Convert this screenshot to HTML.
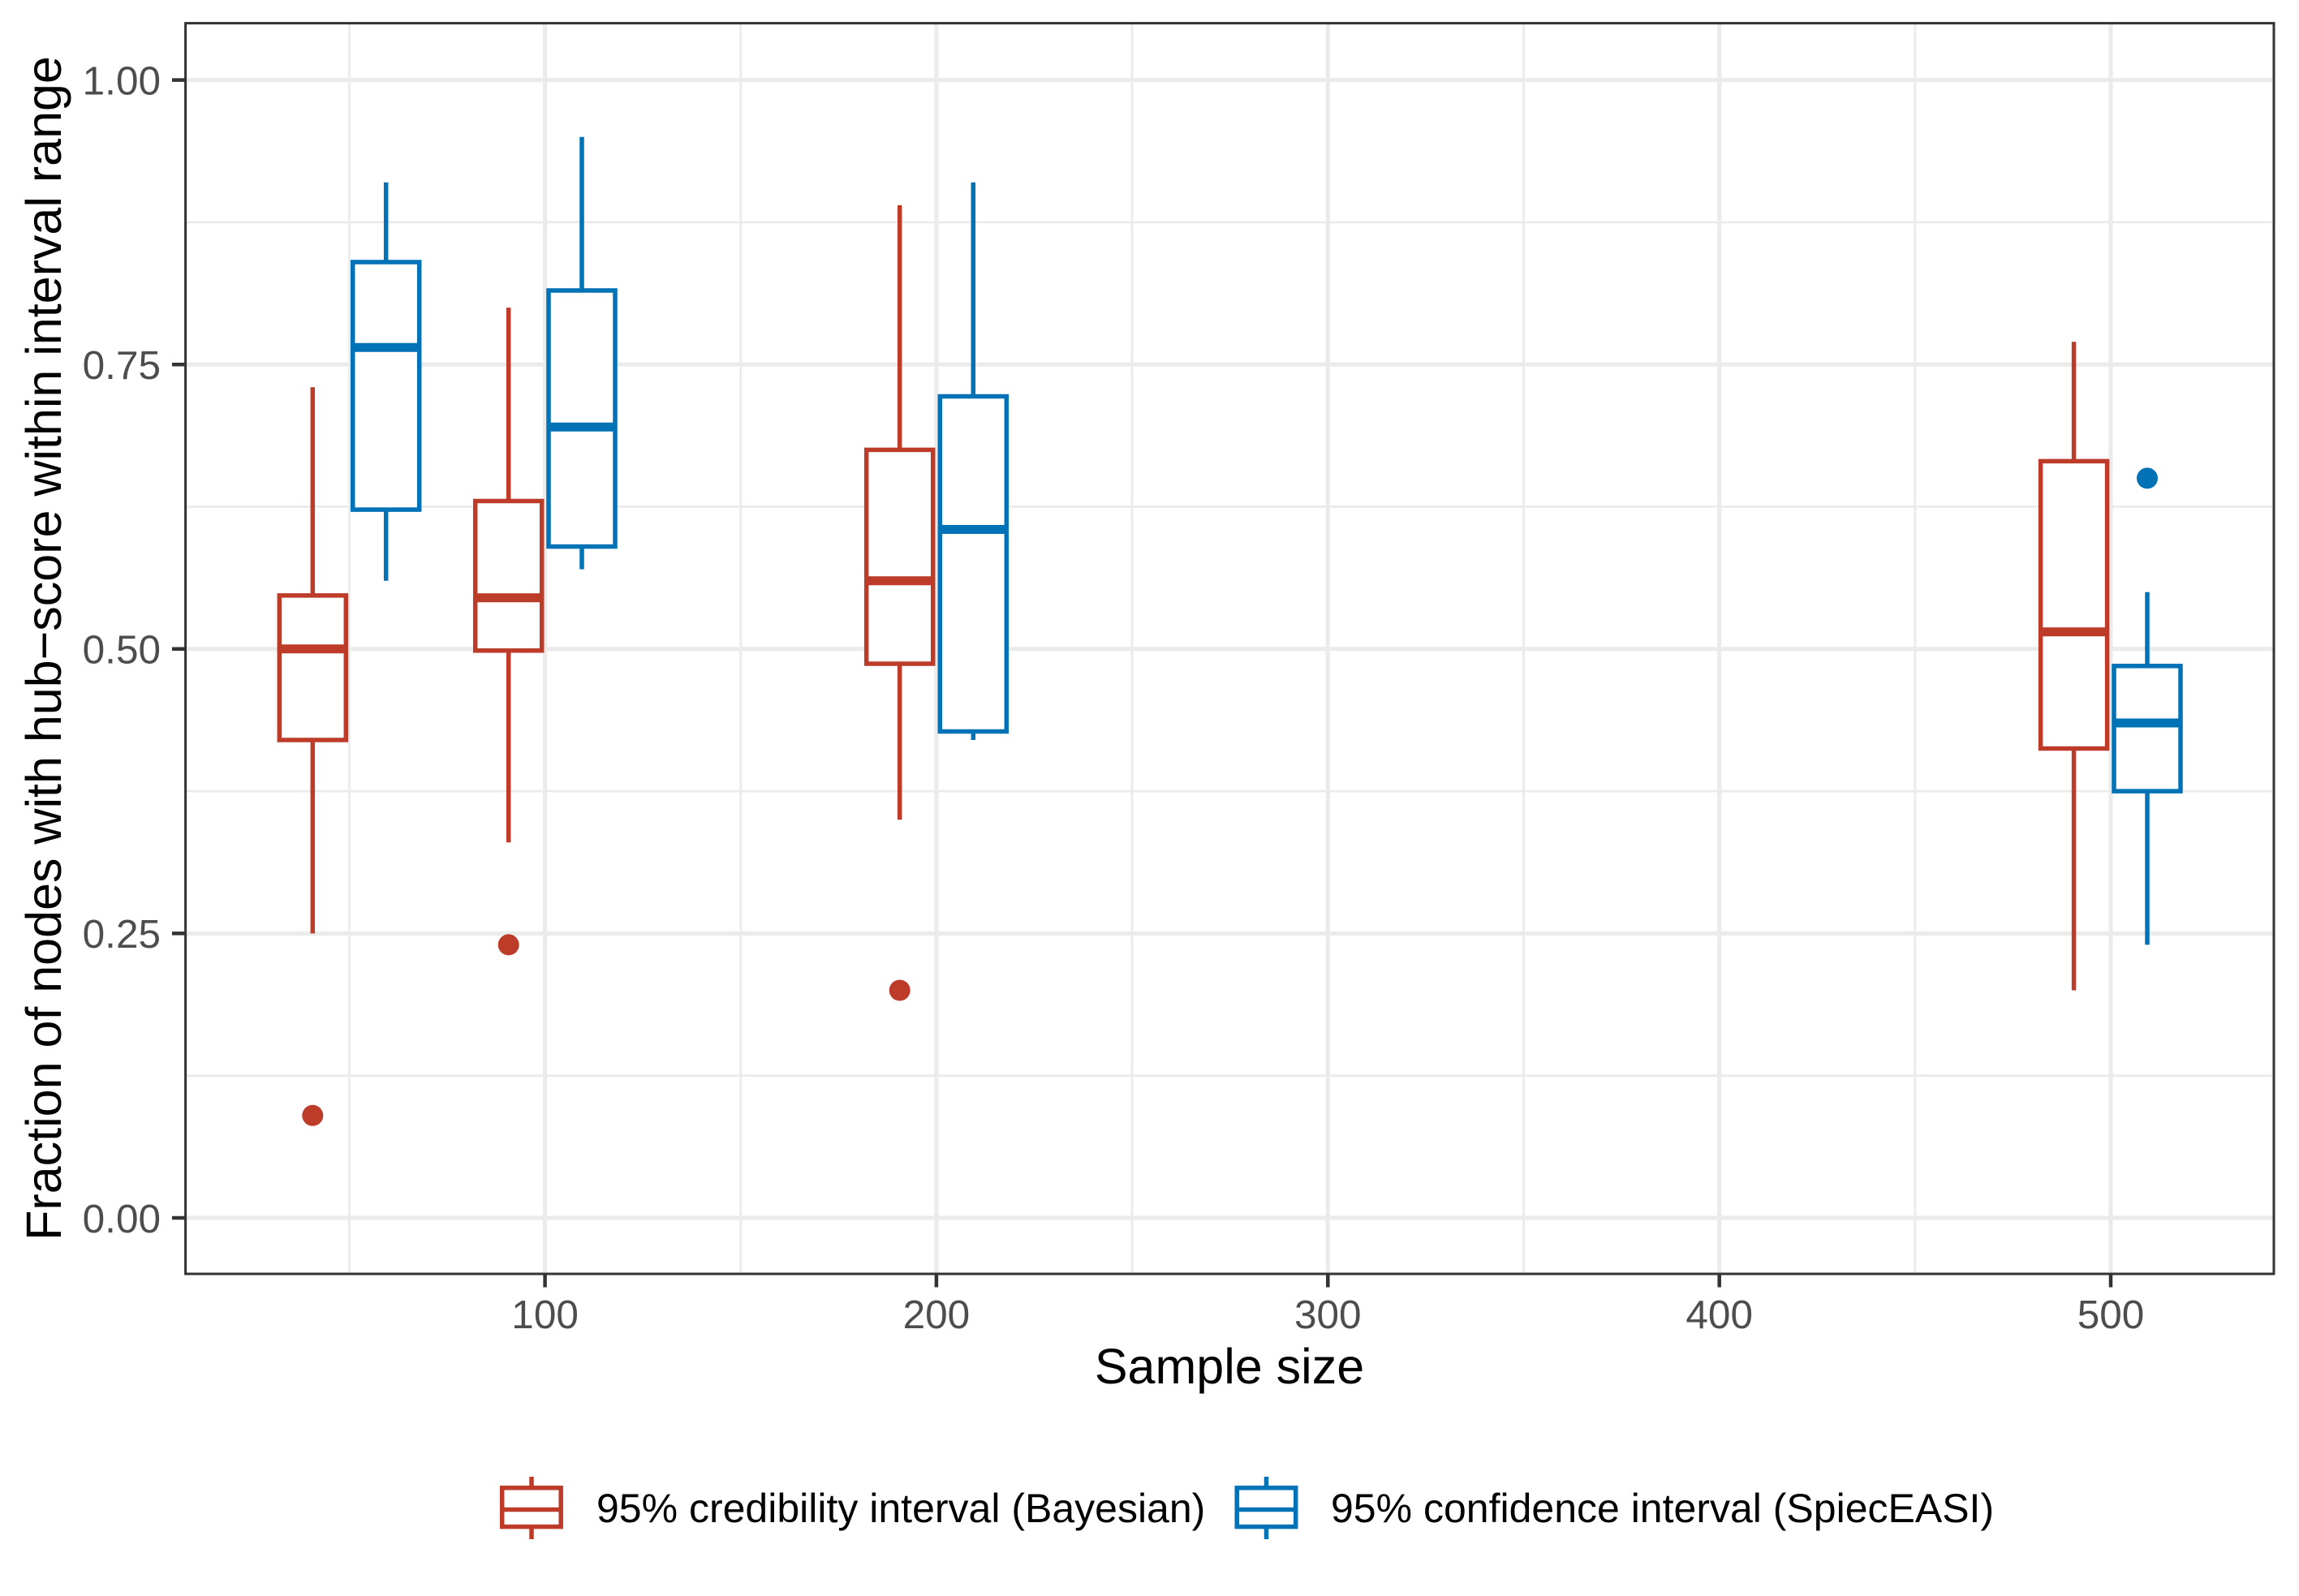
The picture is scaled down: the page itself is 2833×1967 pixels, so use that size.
<!DOCTYPE html>
<html>
<head>
<meta charset="utf-8">
<style>
html,body{margin:0;padding:0;background:#fff;}
svg{display:block;}
text{font-family:"Liberation Sans", Arial, Helvetica, sans-serif;}
</style>
</head>
<body>
<svg width="2833" height="1967" viewBox="0 0 2833 1967" xmlns="http://www.w3.org/2000/svg">
<rect x="0" y="0" width="2833" height="1967" fill="#ffffff"/>

<!-- minor gridlines -->
<g stroke="#EBEBEB" stroke-width="2.8" fill="none">
  <line x1="228.6" x2="2802" y1="1325.7" y2="1325.7"/>
  <line x1="228.6" x2="2802" y1="975.1" y2="975.1"/>
  <line x1="228.6" x2="2802" y1="624.5" y2="624.5"/>
  <line x1="228.6" x2="2802" y1="273.9" y2="273.9"/>
  <line x1="430.4" x2="430.4" y1="28.6" y2="1570"/>
  <line x1="912.8" x2="912.8" y1="28.6" y2="1570"/>
  <line x1="1395.1" x2="1395.1" y1="28.6" y2="1570"/>
  <line x1="1877.5" x2="1877.5" y1="28.6" y2="1570"/>
  <line x1="2359.9" x2="2359.9" y1="28.6" y2="1570"/>
</g>
<!-- major gridlines -->
<g stroke="#EBEBEB" stroke-width="5.2" fill="none">
  <line x1="228.6" x2="2802" y1="1501" y2="1501"/>
  <line x1="228.6" x2="2802" y1="1150.4" y2="1150.4"/>
  <line x1="228.6" x2="2802" y1="799.8" y2="799.8"/>
  <line x1="228.6" x2="2802" y1="449.2" y2="449.2"/>
  <line x1="228.6" x2="2802" y1="98.6" y2="98.6"/>
  <line x1="671.6" x2="671.6" y1="28.6" y2="1570"/>
  <line x1="1153.9" x2="1153.9" y1="28.6" y2="1570"/>
  <line x1="1636.3" x2="1636.3" y1="28.6" y2="1570"/>
  <line x1="2118.7" x2="2118.7" y1="28.6" y2="1570"/>
  <line x1="2601" x2="2601" y1="28.6" y2="1570"/>
</g>

<!-- Red boxes -->
<g stroke="#BC3C29" stroke-width="5.5" fill="#ffffff">
  <line x1="385.3" x2="385.3" y1="477.2" y2="733.9"/>
  <line x1="385.3" x2="385.3" y1="912" y2="1150.4"/>
  <rect x="344.3" y="733.9" width="82" height="178.1"/>
  <line x1="344.3" x2="426.3" y1="799.8" y2="799.8" stroke-width="11"/>
  <line x1="626.7" x2="626.7" y1="379.1" y2="617.5"/>
  <line x1="626.7" x2="626.7" y1="801.8" y2="1038.2"/>
  <rect x="585.7" y="617.5" width="82" height="184.3"/>
  <line x1="585.7" x2="667.7" y1="736.7" y2="736.7" stroke-width="11"/>
  <line x1="1108.7" x2="1108.7" y1="252.9" y2="554.4"/>
  <line x1="1108.7" x2="1108.7" y1="818" y2="1010.2"/>
  <rect x="1067.7" y="554.4" width="82" height="263.6"/>
  <line x1="1067.7" x2="1149.7" y1="715.7" y2="715.7" stroke-width="11"/>
  <line x1="2555.6" x2="2555.6" y1="421.2" y2="568.4"/>
  <line x1="2555.6" x2="2555.6" y1="922.5" y2="1220.5"/>
  <rect x="2514.6" y="568.4" width="82" height="354.1"/>
  <line x1="2514.6" x2="2596.6" y1="778.8" y2="778.8" stroke-width="11"/>
</g>
<g fill="#BC3C29">
  <ellipse cx="385.3" cy="1374.8" rx="13" ry="13"/>
  <ellipse cx="626.7" cy="1164.4" rx="13" ry="13"/>
  <ellipse cx="1108.7" cy="1220.5" rx="13" ry="13"/>
</g>

<!-- Blue boxes -->
<g stroke="#0072B5" stroke-width="5.5" fill="#ffffff">
  <line x1="475.7" x2="475.7" y1="224.8" y2="323"/>
  <line x1="475.7" x2="475.7" y1="628.1" y2="715.7"/>
  <rect x="434.7" y="323" width="82" height="305.1"/>
  <line x1="434.7" x2="516.7" y1="428.2" y2="428.2" stroke-width="11"/>
  <line x1="717" x2="717" y1="168.7" y2="358"/>
  <line x1="717" x2="717" y1="673.6" y2="701.6"/>
  <rect x="676" y="358" width="82" height="315.6"/>
  <line x1="676" x2="758" y1="526.3" y2="526.3" stroke-width="11"/>
  <line x1="1199.3" x2="1199.3" y1="224.8" y2="488.5"/>
  <line x1="1199.3" x2="1199.3" y1="901.5" y2="912"/>
  <rect x="1158.3" y="488.5" width="82" height="413"/>
  <line x1="1158.3" x2="1240.3" y1="652.5" y2="652.5" stroke-width="11"/>
  <line x1="2646" x2="2646" y1="729.7" y2="820.8"/>
  <line x1="2646" x2="2646" y1="975.1" y2="1164.4"/>
  <rect x="2605" y="820.8" width="82" height="154.3"/>
  <line x1="2605" x2="2687" y1="891" y2="891" stroke-width="11"/>
</g>
<g fill="#0072B5">
  <ellipse cx="2646" cy="589.4" rx="13" ry="13"/>
</g>

<!-- Panel border -->
<rect x="228.6" y="28.6" width="2573.4" height="1541.4" fill="none" stroke="#333333" stroke-width="3"/>

<!-- Y ticks -->
<g stroke="#333333" stroke-width="4.5">
  <line x1="212" x2="228.6" y1="1501" y2="1501"/>
  <line x1="212" x2="228.6" y1="1150.4" y2="1150.4"/>
  <line x1="212" x2="228.6" y1="799.8" y2="799.8"/>
  <line x1="212" x2="228.6" y1="449.2" y2="449.2"/>
  <line x1="212" x2="228.6" y1="98.6" y2="98.6"/>
</g>
<!-- X ticks -->
<g stroke="#333333" stroke-width="4.5">
  <line x1="671.6" x2="671.6" y1="1570" y2="1586.5"/>
  <line x1="1153.9" x2="1153.9" y1="1570" y2="1586.5"/>
  <line x1="1636.3" x2="1636.3" y1="1570" y2="1586.5"/>
  <line x1="2118.7" x2="2118.7" y1="1570" y2="1586.5"/>
  <line x1="2601" x2="2601" y1="1570" y2="1586.5"/>
</g>

<!-- Y tick labels -->
<g fill="#4D4D4D" font-size="49.5" text-anchor="end">
  <text x="198" y="1518.8">0.00</text>
  <text x="198" y="1168.2">0.25</text>
  <text x="198" y="817.6">0.50</text>
  <text x="198" y="467">0.75</text>
  <text x="198" y="116.4">1.00</text>
</g>
<!-- X tick labels -->
<g fill="#4D4D4D" font-size="49.5" text-anchor="middle">
  <text x="671.6" y="1637">100</text>
  <text x="1153.9" y="1637">200</text>
  <text x="1636.3" y="1637">300</text>
  <text x="2118.7" y="1637">400</text>
  <text x="2601" y="1637">500</text>
</g>

<!-- Axis titles -->
<text x="1515" y="1705" font-size="61" fill="#000000" text-anchor="middle">Sample size</text>
<text transform="translate(75,799) rotate(-90)" font-size="61" fill="#000000" text-anchor="middle">Fraction of nodes with hub−score within interval range</text>

<!-- Legend -->
<g stroke-width="5.5" fill="#ffffff">
  <g stroke="#BC3C29">
    <line x1="655" x2="655" y1="1820" y2="1834"/>
    <line x1="655" x2="655" y1="1881" y2="1897"/>
    <rect x="618.7" y="1833.7" width="72.5" height="47.9"/>
    <line x1="618.7" x2="691.2" y1="1860.5" y2="1860.5"/>
  </g>
  <g stroke="#0072B5">
    <line x1="1560.5" x2="1560.5" y1="1820" y2="1834"/>
    <line x1="1560.5" x2="1560.5" y1="1881" y2="1897"/>
    <rect x="1524.2" y="1833.7" width="72.5" height="47.9"/>
    <line x1="1524.2" x2="1596.7" y1="1860.5" y2="1860.5"/>
  </g>
</g>
<g fill="#000000" font-size="50">
  <text x="735" y="1876">95% credibility interval (Bayesian)</text>
  <text x="1640" y="1876">95% confidence interval (SpiecEASI)</text>
</g>
</svg>
</body>
</html>
